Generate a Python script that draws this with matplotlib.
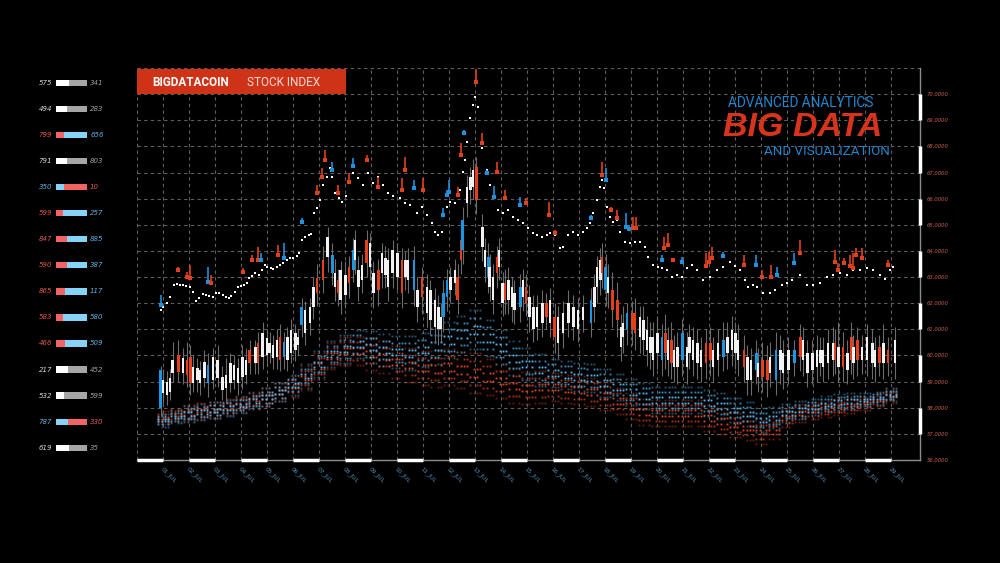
import numpy as np
import matplotlib
matplotlib.use('Agg')
import matplotlib.pyplot as plt
from matplotlib.patches import Rectangle

# ---- candles: day of month, body low / high, wick low / high, colour code
c_day = [0.90, 0.99, 1.14, 1.26, 1.37, 1.57, 1.76, 1.91, 2.03, 2.14,
         2.30, 2.41, 2.57, 2.72, 2.91, 3.10, 3.26, 3.41, 3.57, 3.72,
         3.87, 4.03, 4.18, 4.33, 4.53, 4.64, 4.83, 4.99, 5.10, 5.22,
         5.37, 5.49, 5.64, 5.76, 5.91, 6.07, 6.18, 6.33, 6.45, 6.64,
         6.76, 6.91, 7.14, 7.33, 7.49, 7.60, 7.72, 7.83, 7.99, 8.14,
         8.30, 8.37, 8.49, 8.64, 8.83, 8.95, 9.07, 9.26, 9.41, 9.53,
         9.64, 9.83, 9.99, 10.18, 10.30, 10.41, 10.64, 10.76, 10.95, 11.14,
         11.26, 11.45, 11.57, 11.68, 11.76, 11.91, 12.03, 12.22, 12.33, 12.45,
         12.52, 12.68, 12.80, 12.91, 13.03, 13.26, 13.37, 13.49, 13.56, 13.68,
         13.83, 13.91, 14.06, 14.14, 14.26, 14.41, 14.49, 14.72, 14.83, 14.95,
         15.07, 15.22, 15.37, 15.57, 15.72, 15.87, 16.06, 16.18, 16.37, 16.57,
         16.76, 16.95, 17.14, 17.45, 17.57, 17.68, 17.80, 17.87, 18.02, 18.10,
         18.26, 18.45, 18.60, 18.68, 18.83, 19.03, 19.14, 19.33, 19.45, 19.60,
         19.72, 19.83, 19.99, 20.18, 20.30, 20.41, 20.53, 20.64, 20.76, 20.95,
         21.14, 21.22, 21.37, 21.53, 21.68, 21.87, 22.03, 22.14, 22.33, 22.53,
         22.68, 22.87, 22.99, 23.10, 23.33, 23.45, 23.60, 23.80, 23.87, 24.03,
         24.22, 24.33, 24.56, 24.72, 24.83, 25.03, 25.26, 25.49, 25.60, 25.76,
         25.95, 26.14, 26.26, 26.37, 26.56, 26.76, 26.83, 26.95, 27.14, 27.30,
         27.45, 27.53, 27.68, 27.87, 28.06, 28.26, 28.37, 28.53, 28.68, 28.87,
         29.14]
c_lo = [58.00, 58.56, 58.50, 58.60, 59.33, 59.37, 59.33, 59.25, 58.95, 58.95,
        59.06, 58.95, 59.14, 58.95, 59.06, 59.14, 58.68, 58.76, 58.95, 59.06,
        58.95, 59.18, 59.25, 59.71, 59.71, 59.71, 59.94, 60.02, 60.10, 59.90,
        59.94, 59.83, 59.94, 59.83, 60.10, 60.21, 60.40, 61.17, 60.86, 61.25,
        61.86, 62.40, 62.90, 63.78, 63.16, 62.63, 62.40, 62.13, 62.32, 62.78,
        63.27, 63.66, 62.63, 62.90, 63.54, 63.39, 62.40, 62.50, 63.16, 63.08,
        62.63, 63.16, 63.00, 62.40, 63.00, 62.90, 62.50, 61.86, 62.24, 61.63,
        61.36, 61.10, 61.00, 61.00, 61.48, 62.24, 62.50, 62.78, 62.13, 63.66,
        64.04, 65.84, 66.33, 66.46, 65.96, 64.15, 63.39, 63.00, 62.63, 62.13,
        63.16, 63.39, 62.00, 62.13, 62.13, 61.86, 61.75, 61.86, 62.24, 62.00,
        61.48, 61.00, 61.10, 61.25, 61.48, 61.25, 60.71, 60.48, 60.86, 61.25,
        61.10, 61.00, 61.36, 61.25, 61.86, 62.63, 62.90, 63.16, 62.50, 62.40,
        61.75, 61.36, 60.33, 60.71, 61.00, 61.00, 60.86, 60.71, 60.60, 60.21,
        60.10, 59.83, 60.10, 59.83, 60.10, 59.83, 59.71, 59.56, 59.56, 59.83,
        59.56, 60.10, 59.83, 59.71, 59.56, 59.71, 59.83, 59.56, 59.83, 59.94,
        60.10, 60.21, 60.10, 59.83, 59.56, 59.06, 59.06, 59.44, 59.18, 59.18,
        59.06, 59.33, 59.06, 59.44, 59.33, 59.44, 59.71, 59.94, 59.83, 59.33,
        59.44, 59.56, 59.71, 59.56, 59.71, 59.83, 59.83, 59.56, 59.56, 59.44,
        59.83, 59.71, 59.83, 59.83, 59.83, 59.71, 59.56, 59.71, 59.71, 59.71,
        59.71]
c_hi = [59.45, 59.06, 59.00, 59.14, 59.83, 60.02, 59.90, 59.83, 59.94, 59.56,
        59.52, 59.45, 59.75, 59.64, 59.94, 59.83, 59.18, 59.25, 59.71, 59.64,
        59.52, 59.94, 59.83, 60.21, 60.33, 60.48, 60.86, 60.67, 60.48, 60.40,
        60.60, 60.71, 60.52, 60.71, 60.98, 60.86, 60.71, 61.86, 61.75, 61.86,
        62.63, 62.97, 63.66, 64.54, 63.85, 63.16, 62.90, 63.27, 63.08, 63.39,
        64.04, 64.42, 63.27, 63.47, 64.42, 64.30, 63.16, 63.27, 63.93, 63.74,
        63.66, 64.04, 63.93, 63.66, 63.66, 63.66, 63.66, 62.50, 63.00, 62.63,
        62.50, 62.13, 61.86, 61.48, 62.40, 62.90, 63.00, 63.27, 63.00, 64.42,
        65.20, 66.46, 66.83, 67.10, 67.20, 64.92, 64.04, 63.78, 63.39, 63.00,
        63.78, 64.04, 62.78, 62.78, 62.90, 62.63, 62.40, 62.63, 62.90, 62.63,
        62.24, 61.86, 61.86, 62.00, 62.00, 62.13, 61.48, 61.48, 61.63, 62.00,
        61.86, 61.75, 61.86, 62.13, 62.63, 63.39, 63.66, 63.78, 63.39, 63.00,
        62.50, 62.13, 61.10, 61.25, 61.63, 61.63, 61.63, 61.48, 61.36, 60.98,
        60.71, 60.71, 60.86, 60.71, 60.86, 60.60, 60.60, 60.21, 60.33, 60.86,
        60.33, 60.71, 60.60, 60.48, 60.21, 60.48, 60.48, 60.21, 60.48, 60.60,
        60.71, 60.98, 60.86, 60.60, 60.21, 59.94, 59.83, 60.10, 59.71, 59.83,
        59.83, 59.94, 60.21, 60.21, 60.10, 60.21, 60.21, 60.71, 60.60, 60.10,
        60.10, 60.21, 60.21, 60.21, 60.48, 60.48, 60.48, 60.33, 60.33, 60.10,
        60.71, 60.33, 60.60, 60.33, 60.71, 60.48, 60.21, 60.33, 60.48, 60.21,
        60.60]
c_low = [57.7, 58.2, 58.1, 58.3, 59.0, 59.0, 58.9, 58.8, 58.5, 58.6,
         58.6, 58.5, 58.8, 58.4, 58.7, 58.8, 58.3, 58.2, 58.6, 58.7,
         58.5, 58.7, 58.9, 59.3, 59.3, 59.3, 59.5, 59.6, 59.7, 59.5,
         59.5, 59.4, 59.5, 59.4, 59.7, 59.8, 60.0, 60.7, 60.4, 60.8,
         61.4, 61.9, 62.4, 63.2, 62.7, 62.1, 61.9, 61.6, 61.8, 62.2,
         62.8, 63.1, 62.1, 62.4, 63.0, 62.9, 61.8, 61.9, 62.6, 62.6,
         62.1, 62.6, 62.5, 61.8, 62.5, 62.4, 61.9, 61.3, 61.6, 61.1,
         60.8, 60.5, 60.4, 60.5, 60.9, 61.7, 62.0, 62.3, 61.6, 63.1,
         63.5, 65.3, 65.8, 66.0, 65.4, 63.6, 62.8, 62.4, 62.1, 61.6,
         62.6, 62.9, 61.5, 61.6, 61.6, 61.3, 61.2, 61.3, 61.7, 61.5,
         60.9, 60.5, 60.6, 60.7, 61.0, 60.7, 60.1, 59.9, 60.3, 60.7,
         60.6, 60.5, 60.9, 60.7, 61.3, 62.0, 62.3, 62.6, 61.9, 61.8,
         61.1, 60.7, 59.8, 60.1, 60.4, 60.4, 60.2, 60.1, 60.0, 59.6,
         59.5, 59.2, 59.5, 59.2, 59.5, 59.2, 59.1, 59.0, 58.9, 59.2,
         58.9, 59.5, 59.2, 59.1, 59.0, 59.1, 59.2, 59.0, 59.2, 59.4,
         59.5, 59.6, 59.5, 59.2, 59.0, 58.5, 58.5, 58.9, 58.6, 58.6,
         58.4, 58.8, 58.5, 58.9, 58.7, 58.9, 59.2, 59.4, 59.2, 58.8,
         58.9, 59.0, 59.2, 59.0, 59.1, 59.2, 59.3, 59.0, 59.0, 58.9,
         59.3, 59.1, 59.2, 59.3, 59.2, 59.1, 59.0, 59.2, 59.1, 59.2,
         59.1]
c_high = [59.6, 59.5, 59.4, 59.5, 60.5, 60.6, 60.3, 60.5, 60.4, 60.0,
          59.9, 59.8, 60.2, 60.1, 60.3, 60.4, 59.6, 59.9, 60.1, 60.0,
          59.9, 60.4, 60.3, 60.6, 60.6, 60.9, 61.3, 61.0, 60.9, 60.8,
          61.0, 61.2, 60.9, 61.1, 61.4, 61.2, 61.0, 62.2, 62.1, 62.2,
          63.0, 63.5, 64.2, 64.9, 64.3, 63.7, 63.3, 63.6, 63.6, 63.8,
          64.5, 64.8, 63.8, 63.9, 64.8, 64.7, 63.6, 63.7, 64.3, 64.2,
          64.1, 64.4, 64.3, 64.1, 64.0, 64.1, 64.2, 63.0, 63.4, 63.1,
          62.9, 62.6, 62.3, 62.0, 62.9, 63.3, 63.4, 63.7, 63.5, 64.9,
          65.7, 66.9, 67.2, 67.5, 67.6, 65.4, 64.5, 64.3, 63.9, 63.5,
          64.2, 64.5, 63.2, 63.3, 63.4, 63.0, 62.9, 63.1, 63.3, 63.1,
          62.7, 62.3, 62.3, 62.5, 62.4, 62.6, 62.0, 61.9, 62.1, 62.5,
          62.3, 62.2, 62.3, 62.6, 63.1, 63.8, 64.1, 64.3, 63.9, 63.5,
          63.2, 62.8, 61.6, 61.9, 62.0, 62.1, 62.2, 61.9, 61.9, 61.5,
          61.3, 61.3, 61.5, 61.2, 61.6, 61.1, 61.3, 60.8, 60.9, 61.4,
          60.9, 61.2, 61.1, 61.0, 60.7, 61.0, 61.1, 60.7, 61.0, 61.3,
          61.3, 61.5, 61.3, 61.2, 60.8, 60.4, 60.3, 60.6, 60.3, 60.5,
          60.4, 60.5, 60.9, 60.8, 60.6, 60.7, 60.6, 61.2, 61.1, 60.6,
          60.6, 60.8, 60.7, 60.7, 61.0, 61.1, 61.0, 61.3, 60.9, 60.6,
          61.3, 60.8, 61.1, 60.8, 61.2, 61.0, 60.7, 60.8, 61.2, 60.7,
          61.1]
c_col = ("bwwwwrwrrw" "wwwbwwwwww" "wwwrwrwwww" "wrbwwwwbww" "wrrwbwrwwr"
         "bwwwrwwrww" "wwwrwwbwrw" "wwwwbbwwrr" "bwwwrwwbww" "rwwrwwwbwr"
         "wwwwrwrwww" "wwwbwwwrbw" "rrwwbrrwww" "wwwbrwrwwb" "wwwwwrrwwb"
         "wwwwrwwbwr" "rwbwwwbrww" "wwwwwwrwrw" "rwrwwwwrwr" "w")

# ---- white dotted average line
ma_day = [0.90, 0.99, 1.13, 1.26, 1.41, 1.53, 1.64, 1.76, 1.87, 2.03,
          2.14, 2.26, 2.37, 2.53, 2.64, 2.76, 2.91, 3.03, 3.14, 3.30,
          3.41, 3.53, 3.60, 3.76, 3.87, 3.99, 4.10, 4.22, 4.30, 4.41,
          4.53, 4.68, 4.80, 4.91, 4.99, 5.14, 5.22, 5.37, 5.49, 5.60,
          5.76, 5.87, 5.99, 6.14, 6.22, 6.33, 6.45, 6.60, 6.68, 6.80,
          6.91, 7.03, 7.14, 7.30, 7.41, 7.49, 7.60, 7.76, 7.87, 8.03,
          8.18, 8.30, 8.49, 8.68, 8.87, 9.07, 9.26, 9.45, 9.64, 9.83,
          10.10, 10.30, 10.49, 10.76, 10.95, 11.14, 11.34, 11.45, 11.57, 11.72,
          11.91, 12.03, 12.22, 12.41, 12.53, 12.60, 12.68, 12.80, 12.91, 12.99,
          13.10, 13.26, 13.45, 13.57, 13.68, 13.87, 14.06, 14.26, 14.45, 14.64,
          14.83, 15.03, 15.22, 15.37, 15.57, 15.76, 15.87, 16.06, 16.26, 16.37,
          16.57, 16.76, 16.95, 17.14, 17.30, 17.41, 17.53, 17.68, 17.80, 17.87,
          17.95, 18.06, 18.18, 18.30, 18.45, 18.57, 18.76, 18.95, 19.14, 19.33,
          19.53, 19.64, 19.83, 20.03, 20.18, 20.37, 20.57, 20.76, 20.95, 21.14,
          21.33, 21.53, 21.76, 22.03, 22.30, 22.53, 22.80, 22.99, 23.18, 23.37,
          23.49, 23.68, 23.83, 24.06, 24.33, 24.53, 24.80, 24.99, 25.18, 25.49,
          25.76, 25.99, 26.26, 26.53, 26.76, 27.03, 27.30, 27.53, 27.80, 28.06,
          28.30, 28.57, 28.76, 28.95, 29.07]
ma_val = [61.74, 61.86, 62.01, 62.24, 62.70, 62.74, 62.70, 62.70, 62.66, 62.62,
          62.43, 62.08, 62.20, 62.35, 62.31, 62.28, 62.24, 62.39, 62.39, 62.31,
          62.24, 62.20, 62.28, 62.43, 62.62, 62.66, 62.70, 62.77, 62.97, 63.04,
          63.16, 63.08, 63.27, 63.46, 63.39, 63.35, 63.31, 63.39, 63.46, 63.54,
          63.65, 63.73, 63.73, 63.81, 63.92, 64.42, 64.53, 64.61, 64.65, 65.45,
          65.64, 65.95, 66.52, 66.83, 67.17, 66.83, 66.22, 66.03, 65.87, 66.10,
          66.64, 66.98, 66.79, 66.52, 66.98, 66.60, 66.83, 66.52, 66.22, 66.10,
          66.03, 65.84, 65.76, 65.45, 65.68, 65.38, 65.07, 64.73, 64.61, 64.73,
          65.68, 65.87, 65.84, 66.33, 67.02, 67.48, 68.17, 69.09, 69.59, 69.89,
          69.51, 67.94, 67.10, 66.52, 66.03, 65.57, 65.45, 65.57, 65.30, 65.18,
          65.07, 64.88, 64.69, 64.61, 64.53, 64.61, 64.69, 64.61, 64.11, 64.15,
          64.61, 64.73, 64.61, 64.73, 64.88, 65.07, 65.45, 65.95, 66.45, 66.72,
          66.41, 65.68, 65.30, 65.11, 65.18, 64.73, 64.34, 64.30, 64.34, 64.34,
          64.15, 63.77, 63.46, 63.39, 63.35, 63.27, 63.00, 63.08, 63.00, 63.35,
          63.46, 63.27, 62.89, 63.00, 63.27, 63.39, 63.58, 63.42, 63.27, 62.89,
          62.62, 62.70, 62.62, 62.39, 62.39, 62.51, 62.70, 62.77, 62.89, 63.08,
          62.70, 62.70, 62.77, 63.00, 63.08, 63.16, 63.08, 63.27, 63.27, 63.35,
          63.27, 63.08, 62.93, 63.27, 63.39]

# ---- signal ticks above the average line
sig_day = [0.90, 1.57, 1.91, 2.03, 2.71, 2.83, 4.05, 4.41, 4.64, 4.75,
           5.41, 5.64, 6.33, 6.90, 7.10, 7.22, 7.48, 7.71, 8.14, 8.28,
           8.82, 9.26, 10.18, 10.30, 10.64, 10.98, 11.76, 11.90, 11.99, 12.33,
           12.45, 12.57, 13.03, 13.25, 13.45, 13.72, 13.82, 14.14, 14.72, 14.94,
           15.83, 16.06, 17.44, 17.87, 18.02, 18.22, 18.44, 18.80, 18.91, 19.07,
           19.17, 20.17, 20.26, 20.40, 20.60, 20.95, 21.87, 21.98, 22.09, 22.53,
           23.33, 23.78, 24.02, 24.36, 24.59, 25.26, 25.49, 26.83, 26.95, 27.18,
           27.41, 27.51, 27.64, 27.87, 28.87]
sig_top = [62.31, 63.39, 63.20, 63.46, 63.39, 63.08, 63.35, 63.85, 64.15, 63.92,
           64.23, 64.30, 65.26, 66.52, 67.17, 67.86, 67.40, 66.52, 66.98, 67.56,
           67.67, 66.83, 66.79, 67.60, 66.72, 66.79, 65.64, 66.33, 66.72, 66.45,
           68.13, 68.63, 70.95, 68.51, 67.10, 66.49, 67.40, 66.33, 66.06, 66.03,
           65.87, 64.80, 65.38, 67.40, 67.17, 65.68, 65.57, 65.45, 64.99, 65.30,
           65.30, 63.85, 64.53, 64.69, 63.73, 63.77, 63.92, 63.96, 64.15, 63.96,
           63.85, 63.85, 63.27, 63.46, 63.39, 63.92, 64.42, 64.04, 63.54, 63.73,
           63.85, 63.92, 64.11, 64.11, 63.65]
sig_bot = [61.93, 63.27, 63.00, 62.97, 62.81, 62.77, 63.20, 63.65, 63.65, 63.65,
           63.85, 63.73, 65.11, 66.22, 66.83, 67.48, 67.10, 66.22, 66.64, 67.25,
           67.48, 66.45, 66.33, 67.10, 66.41, 66.33, 65.38, 66.14, 66.26, 66.14,
           67.67, 68.51, 70.47, 68.13, 66.98, 66.06, 67.02, 66.03, 65.76, 65.84,
           65.38, 64.69, 65.26, 66.90, 66.72, 65.57, 65.26, 64.92, 64.84, 64.88,
           64.88, 63.65, 64.11, 64.23, 63.65, 63.58, 63.42, 63.58, 63.73, 63.81,
           63.46, 63.46, 63.00, 63.00, 63.08, 63.54, 63.92, 63.58, 63.27, 63.54,
           63.42, 63.35, 63.85, 63.73, 63.46]
sig_col = ("brrrbrrrrb" "rbbrrrbrrb" "rrrrbrbbbr" "rbrrbbrrbr"
           "rrbrbrrbbr" "rbrrrbrrrb" "rbrrbbrrrr" "rrrrr")

# ---- blue / red dot bands, sampled every half day from day 1 to 29
cloud_day = np.arange(1.0, 29.01, 0.5)
cloud_blue = [57.53, 57.65, 57.76, 57.84, 57.91, 57.99, 58.10, 58.26, 58.41, 58.60,
              58.87, 59.21, 59.67, 60.06, 60.25, 60.44, 60.32, 60.21, 60.13, 60.09,
              60.21, 60.36, 60.59, 60.82, 60.98, 60.67, 60.32, 59.90, 59.67, 59.44,
              59.33, 59.25, 59.18, 59.14, 58.95, 58.79, 58.60, 58.45, 58.30, 58.30,
              58.30, 58.30, 58.18, 58.07, 57.91, 57.76, 57.53, 57.61, 57.80, 57.91,
              58.03, 58.14, 58.22, 58.26, 58.30, 58.37, 58.49]
cloud_red = [57.61, 57.72, 57.80, 57.88, 57.91, 58.03, 58.14, 58.30, 58.41, 58.60,
             58.83, 59.14, 59.60, 59.98, 60.17, 60.17, 60.06, 59.94, 59.75, 59.64,
             59.52, 59.48, 59.56, 59.44, 59.33, 59.18, 59.02, 58.83, 58.76, 58.79,
             58.79, 58.72, 58.68, 58.60, 58.45, 58.26, 58.07, 57.84, 57.80, 57.80,
             57.80, 57.80, 57.61, 57.49, 57.34, 57.22, 57.07, 57.22, 57.61, 57.80,
             57.88, 57.95, 58.03, 58.10, 58.18, 58.30, 58.45]
cloud_spread = [0.25, 0.25, 0.3, 0.3, 0.3, 0.3, 0.3, 0.3, 0.35, 0.35,
                0.4, 0.45, 0.5, 0.5, 0.55, 0.55, 0.6, 0.6, 0.6, 0.65,
                0.65, 0.7, 0.7, 0.7, 0.75, 0.7, 0.65, 0.65, 0.6, 0.6,
                0.55, 0.55, 0.55, 0.55, 0.55, 0.5, 0.5, 0.5, 0.5, 0.5,
                0.5, 0.5, 0.5, 0.5, 0.45, 0.45, 0.45, 0.4, 0.35, 0.35,
                0.3, 0.3, 0.3, 0.3, 0.25, 0.25, 0.25]

# ---- left side panel
panel_left = [575, 494, 799, 791, 350, 599, 847, 590, 865, 583, 466, 217, 532, 787, 619]
panel_right = [341, 283, 656, 803, 10, 257, 885, 387, 117, 580, 509, 452, 599, 330, 35]
panel_split = [0.42, 0.37, 0.26, 0.35, 0.26, 0.22, 0.37, 0.37, 0.29, 0.24, 0.29, 0.38, 0.27, 0.39, 0.41]
panel_kind = ['wg', 'wg', 'rb', 'wg', 'br', 'rb', 'rb', 'rb', 'rb', 'rb', 'rb', 'wg', 'wg', 'br', 'wg']

day_labels = ['%02d_JUL' % d for d in range(1, 30)]
price_ticks = list(range(56, 71))

assert len(c_day) == len(c_lo) == len(c_hi) == len(c_low) == len(c_high) == len(c_col)
assert len(ma_day) == len(ma_val)
assert len(sig_day) == len(sig_top) == len(sig_bot) == len(sig_col)
assert len(cloud_day) == len(cloud_blue) == len(cloud_red) == len(cloud_spread)

candle_colors = {'w': '#f2f2f2', 'r': '#e5401b', 'b': '#1b96e2'}
sig_colors = {'r': '#e0401c', 'b': '#1e92e0'}
bar_colors = {'w': '#ffffff', 'g': '#a6a6a6', 'r': '#f26464', 'b': '#86d3f7'}
num_colors = {'w': '#d6d6d6', 'g': '#a0a0a0', 'r': '#e0584a', 'b': '#5eb0e0'}

fig = plt.figure(figsize=(10, 5.63), dpi=100, facecolor='black')

ax = fig.add_axes([0.1373, 0.1829, 0.7822, 0.6963])
ax.set_facecolor('black')
ax.set_xlim(0, 30.08)
ax.set_ylim(56, 71)

grid_style = dict(color='#5e5e5e', lw=0.8, ls=(0, (3, 3)))
ax.set_xticks(range(1, 30))
ax.set_yticks(price_ticks)
ax.grid(True, zorder=0, **grid_style)
ax.set_axisbelow(True)
ax.axvline(0, **grid_style)
ax.axhline(71, **grid_style)

ax.set_xticklabels(day_labels, rotation=-45, ha='left', va='top', rotation_mode='anchor',
                   fontsize=4.2, color='#4f93bd')
ax.yaxis.tick_right()
ax.set_yticklabels(['%.4f' % v for v in price_ticks], fontsize=3.8, color='#c8604c',
                   style='italic')
ax.tick_params(axis='x', length=0, pad=4)
ax.tick_params(axis='y', length=0, pad=5)

for s in ['left', 'top']:
    ax.spines[s].set_visible(False)
for s in ['bottom', 'right']:
    ax.spines[s].set_color('#8c8c8c')
    ax.spines[s].set_linewidth(1.0)

# ruler style spines
x_right = ax.get_xlim()[1]
for k in range(57, 70, 2):
    ax.plot([x_right, x_right], [k, k + 1], color='white', lw=2.5,
            solid_capstyle='butt', clip_on=False, zorder=6)
for d in range(0, 30, 2):
    ax.plot([d, d + 1], [56, 56], color='white', lw=2.5,
            solid_capstyle='butt', clip_on=False, zorder=6)

# dot bands
offs_x = [-0.19, -0.06, 0.06, 0.19]
offs_y = [-1.0, -0.6, -0.2, 0.2, 0.6, 1.0]
alphas = [0.45, 0.75, 1.0, 1.0, 0.75, 0.45]
for vals, col in [(cloud_red, '#e0401c'), (cloud_blue, '#4cb6f0')]:
    for i in range(len(cloud_day)):
        for r in range(len(offs_y)):
            xs = []
            for c in range(len(offs_x)):
                if (i * 4 + c + r * 3) % 5 == 0:
                    continue
                xs.append(cloud_day[i] + offs_x[c])
            ys = [vals[i] + offs_y[r] * cloud_spread[i]] * len(xs)
            ax.plot(xs, ys, ls='none', marker='s', ms=1.35, mew=0, color=col,
                    alpha=alphas[r], zorder=2)

# candles
ax.vlines(c_day, c_low, c_high, color='#6c6c6c', lw=0.8, zorder=3)
ax.bar(c_day, np.array(c_hi) - np.array(c_lo), bottom=c_lo, width=0.11,
       color=[candle_colors[k] for k in c_col], linewidth=0, zorder=4)

# average line
ax.plot(ma_day, ma_val, ls='none', marker='s', ms=1.5, mew=0, color='white', zorder=5)

# signals
for d, t, b, k in zip(sig_day, sig_top, sig_bot, sig_col):
    ax.plot([d, d], [b, t], color=sig_colors[k], lw=1.2, solid_capstyle='butt', zorder=5)
    ax.plot(d, b, marker='s', ms=2.4, mew=0, color=sig_colors[k], zorder=5)

# title box
ax.add_patch(Rectangle((0, 0.9345), 0.2668, 0.063, transform=ax.transAxes,
                       facecolor='#cf3317', edgecolor='none', zorder=7, clip_on=False))
fig.text(0.152, 1 - 82 / 563, 'BIGDATACOIN', family=['Roboto', 'DejaVu Sans'],
         fontweight='bold', fontsize=8.5, color='white', va='center', zorder=8)
fig.text(0.247, 1 - 82 / 563, 'STOCK INDEX', family=['Roboto', 'DejaVu Sans'],
         fontweight='normal', fontsize=8.5, color='#f8dcd4', va='center', zorder=8)

fig.text(0.728, 1 - 107 / 563, 'ADVANCED ANALYTICS', family=['Roboto', 'DejaVu Sans'],
         fontweight='normal', fontsize=9.8, color='#2286cf', va='baseline')
fig.text(0.723, 1 - 136 / 563, 'BIG DATA', family=['Liberation Sans', 'DejaVu Sans'],
         fontweight='bold', style='italic', fontsize=24.5, color='#d8341c', va='baseline')
fig.text(0.890, 1 - 155 / 563, 'AND VISUALIZATION', family=['Roboto', 'DejaVu Sans'],
         fontweight='normal', fontsize=9.6, color='#2286cf', va='baseline', ha='right')

# side panel
axp = fig.add_axes([0.056, 0.1817, 0.0307, 0.694])
axp.set_facecolor('black')
axp.set_xlim(0, 1)
axp.set_ylim(len(panel_left) - 0.5, -0.5)
axp.axis('off')
rows = np.arange(len(panel_left))
axp.barh(rows, panel_split, height=0.24, color=[bar_colors[k[0]] for k in panel_kind])
axp.barh(rows, 1 - np.array(panel_split), left=panel_split, height=0.24,
         color=[bar_colors[k[1]] for k in panel_kind])
for i in rows:
    axp.text(-0.13, i, str(panel_left[i]), ha='right', va='center', fontsize=5,
             style='italic', color=num_colors[panel_kind[i][0]])
    axp.text(1.11, i, str(panel_right[i]), ha='left', va='center', fontsize=5,
             style='italic', color=num_colors[panel_kind[i][1]])

fig.savefig('out.png', dpi=100, facecolor='black')
